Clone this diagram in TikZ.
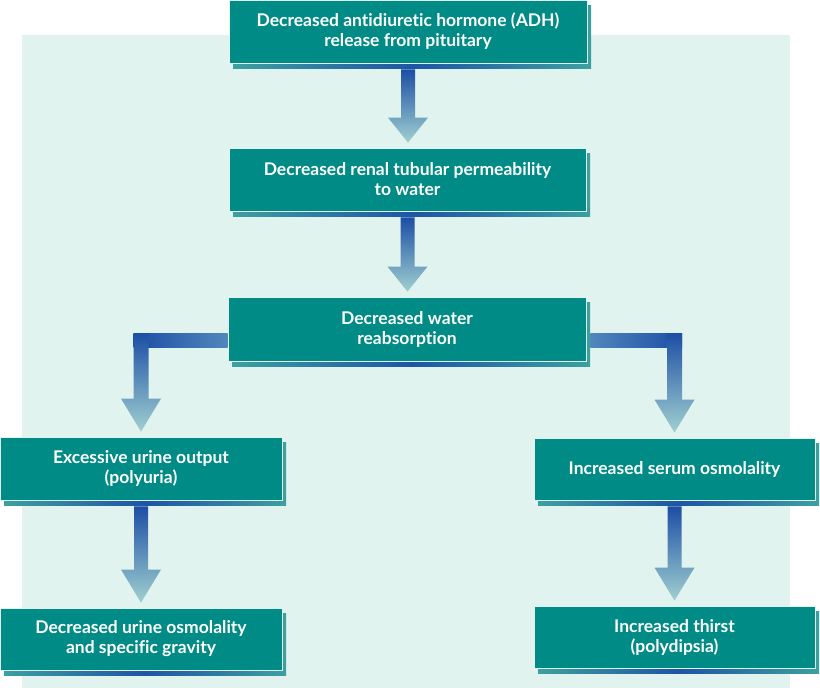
\documentclass[tikz,border=0pt]{standalone}
\usepackage{fontspec}
\setmainfont{Lato}[Ligatures=NoCommon]
\usetikzlibrary{calc,shadows}
\definecolor{bgmint}{RGB}{225,243,238}
\definecolor{boxteal}{RGB}{0,139,134}
\definecolor{shteal}{RGB}{60,160,160}
\definecolor{shblue}{RGB}{30,85,165}
\definecolor{arrdark}{RGB}{28,78,165}
\definecolor{arrmid}{RGB}{80,135,188}
\definecolor{arrlight}{RGB}{160,208,208}
\tikzset{
  box/.style={rectangle, inner sep=0pt, fill=boxteal, draw=bgmint, line width=0.8pt,
    text=white, align=center, font=\fontsize{17.5}{20}\selectfont\bfseries,
    general shadow={shadow xshift=4pt, shadow yshift=-5pt, draw=none,
      left color=shteal, right color=shteal, middle color=shblue}},
  arrowshade/.style={top color=arrdark, bottom color=arrlight, draw=none},
  barshadeL/.style={left color=arrdark, right color=arrmid, draw=none},
  barshadeR/.style={left color=arrmid, right color=arrdark, draw=none},
}
\newcommand\downarr[3]{%
  \shade[arrowshade] let \p1=($(#1.south)+(0,6)$), \p2=($(#1.south |- #2.north)+(0,-5)$) in
    (\x1-7pt,\y1) -- (\x1+7pt,\y1) -- (\x1+7pt,\y2+#3pt) -- (\x1+20pt,\y2+#3pt)
    -- (\x2,\y2) -- (\x1-20pt,\y2+#3pt) -- (\x1-7pt,\y2+#3pt) -- cycle;}
\begin{document}
\begin{tikzpicture}[x=1pt,y=-1pt]
\useasboundingbox (0,0) rectangle (820,688);
\fill[bgmint] (22,35) rectangle (790,688);

\node[box, minimum width=358, minimum height=63] (b1) at (408,31.5)
  {Decreased antidiuretic hormone (ADH)\\release from pituitary};
\node[box, minimum width=357, minimum height=63] (b2) at (407.5,179.5)
  {Decreased renal tubular permeability\\to water};
\node[box, minimum width=358, minimum height=64] (b3) at (407,329)
  {Decreased water\\reabsorption};
\node[box, minimum width=282, minimum height=63] (b4) at (141,468.5)
  {Excessive urine output\\(polyuria)};
\node[box, minimum width=281, minimum height=62] (b5) at (674.5,469)
  {Increased serum osmolality};
\node[box, minimum width=282, minimum height=62] (b6) at (141,639)
  {Decreased urine osmolality\\and specific gravity};
\node[box, minimum width=281, minimum height=62] (b7) at (674.5,637)
  {Increased thirst\\(polydipsia)};

\downarr{b1}{b2}{25}
\downarr{b2}{b3}{25}
\downarr{b4}{b6}{33}
\downarr{b5}{b7}{33}

% left branch
\shade[barshadeL] let \p1=(b3.west), \p2=(b4.north) in
  (\x2-7.5pt,\y1-4pt) rectangle (\x1,\y1-18pt);
\shade[arrowshade] let \p1=(b3.west), \p2=(b4.north) in
  (\x2-7.5pt,\y1-4pt) -- (\x2+7.5pt,\y1-4pt) -- (\x2+7.5pt,\y2+38pt) -- (\x2+20pt,\y2+38pt)
  -- (\x2,\y2+5pt) -- (\x2-20pt,\y2+38pt) -- (\x2-7.5pt,\y2+38pt) -- cycle;
% right branch
\shade[barshadeR] let \p1=(b3.east), \p2=(b5.north) in
  (\x1+4pt,\y1-4pt) rectangle (\x2+7.5pt,\y1-18pt);
\shade[arrowshade] let \p1=(b3.east), \p2=(b5.north) in
  (\x2-7.5pt,\y1-4pt) -- (\x2+7.5pt,\y1-4pt) -- (\x2+7.5pt,\y2+38pt) -- (\x2+20pt,\y2+38pt)
  -- (\x2,\y2+5pt) -- (\x2-20pt,\y2+38pt) -- (\x2-7.5pt,\y2+38pt) -- cycle;
\end{tikzpicture}
\end{document}
